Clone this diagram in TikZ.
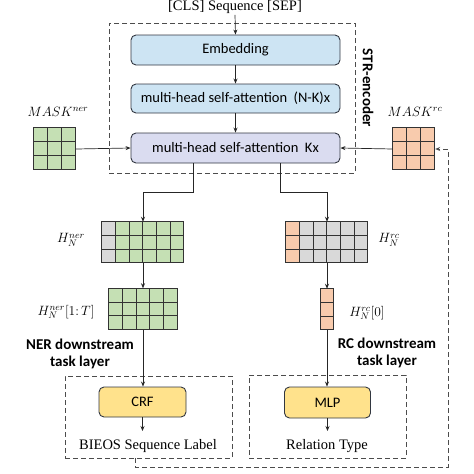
\RequirePackage{fix-cm}
\documentclass[tikz,border=0pt]{standalone}
\usepackage{fontspec}
\setmainfont{Liberation Serif}
\setsansfont{Carlito}
\usetikzlibrary{arrows.meta,calc}
\definecolor{blueC}{RGB}{205,228,243}
\definecolor{lavC}{RGB}{218,220,240}
\definecolor{yellowC}{RGB}{255,226,140}
\definecolor{greenC}{RGB}{197,224,180}
\definecolor{orangeC}{RGB}{248,203,173}
\definecolor{grayC}{RGB}{217,217,217}
\definecolor{edgeC}{RGB}{50,55,65}
\begin{document}
\begin{tikzpicture}[x=1pt,y=-1pt,
  blk/.style={draw=edgeC, rounded corners=5pt, line width=0.9pt, inner sep=0pt,
    font=\sffamily\fontsize{14.5}{16}\selectfont},
  dashbox/.style={draw=black!70, dashed, dash pattern=on 5pt off 3pt, line width=0.8pt, inner sep=0pt},
  arr/.style={-{Stealth[length=5pt,width=4pt]}, line width=0.7pt, draw=black!85},
  feed/.style={-{Stealth[length=5pt,width=4pt]}, line width=0.8pt, draw=black!70, dash pattern=on 5pt off 3pt},
  holder/.style={draw=none, inner sep=0pt},
  cellst/.style={draw=black!80, line width=0.9pt},
  serifl/.style={font=\fontsize{14.5}{16}\selectfont, inner sep=1pt},
  boldl/.style={font=\sffamily\bfseries\fontsize{15}{17}\selectfont, align=center, inner sep=0pt},
  mathl/.style={font=\fontsize{13.5}{15}\selectfont, inner sep=0pt}
]
\useasboundingbox (0,0) rectangle (474,474);

% encoder
\node[serifl] (in) at (235,7) {[CLS] Sequence [SEP]};
\node[dashbox, minimum width=246pt, minimum height=150pt] (enc) at (232,98) {};
\node[blk, fill=blueC, minimum width=209pt, minimum height=30pt] (emb) at (235.5,50) {Embedding};
\node[blk, fill=blueC, minimum width=209pt, minimum height=29pt] (mh1) at (235.5,98.5) {multi-head self-attention\ \ (N-K)x};
\node[blk, fill=lavC, minimum width=209pt, minimum height=30pt] (mh2) at (235.5,148) {multi-head self-attention\ \ Kx};
\node[boldl, rotate=-90] (strl) at (368,88) {STR-encoder};

\draw[arr] (in.south) -- (emb.north);
\draw[arr] (emb) -- (mh1);
\draw[arr] (mh1) -- (mh2);

% masks
\node[holder, minimum width=42pt, minimum height=42pt] (mn) at (55,149) {};
\foreach \i in {0,1,2}\foreach \j in {0,1,2}
  \draw[cellst, fill=greenC] ($(mn.north west)+(\i*14,\j*14)$) rectangle ++(14,14);
\node[mathl] (mnl) at (58,112) {$MASK^{ner}$};

\node[holder, minimum width=42pt, minimum height=42pt] (mr) at (414,149) {};
\foreach \i in {0,1,2}\foreach \j in {0,1,2}
  \draw[cellst, fill=orangeC] ($(mr.north west)+(\i*14,\j*14)$) rectangle ++(14,14);
\node[mathl] (mrl) at (415,112) {$MASK^{rc}$};

\draw[arr] (mn.east) -- (mh2.west);
\draw[arr] (mr.west) -- (mh2.east);

% hidden states
\node[holder, minimum width=82.2pt, minimum height=41.1pt] (hn) at (143,242.5) {};
\foreach \j in {0,1,2}{
  \draw[cellst, fill=grayC] ($(hn.north west)+(0,\j*13.7)$) rectangle ++(13.7,13.7);
  \foreach \i in {1,...,5}
    \draw[cellst, fill=greenC] ($(hn.north west)+(\i*13.7,\j*13.7)$) rectangle ++(13.7,13.7);
}
\node[mathl] (hnl) at (71,240) {$H_N^{ner}$};

\node[holder, minimum width=68.5pt, minimum height=41.1pt] (ht) at (143,309) {};
\foreach \j in {0,1,2}\foreach \i in {0,...,4}
  \draw[cellst, fill=greenC] ($(ht.north west)+(\i*13.7,\j*13.7)$) rectangle ++(13.7,13.7);
\node[mathl] (htl) at (66,312) {$H_N^{ner}[1{:}\,T]$};

\node[holder, minimum width=82.2pt, minimum height=41.1pt] (hr) at (327,242.5) {};
\foreach \j in {0,1,2}{
  \draw[cellst, fill=orangeC] ($(hr.north west)+(0,\j*13.7)$) rectangle ++(13.7,13.7);
  \foreach \i in {1,...,5}
    \draw[cellst, fill=grayC] ($(hr.north west)+(\i*13.7,\j*13.7)$) rectangle ++(13.7,13.7);
}
\node[mathl] (hrl) at (389,240) {$H_N^{rc}$};

\node[holder, minimum width=13.7pt, minimum height=41.1pt] (h0) at (327,309.5) {};
\foreach \j in {0,1,2}
  \draw[cellst, fill=orangeC] ($(h0.north west)+(0,\j*13.7)$) rectangle ++(13.7,13.7);
\node[mathl] (h0l) at (367,313) {$H_N^{rc}[0]$};

\draw[arr] ([xshift=-42.5pt]mh2.south) -- ++(0,29) -| (hn.north);
\draw[arr] ([xshift=44.5pt]mh2.south) -- ++(0,29) -| (hr.north);
\draw[arr] (hn.south) -- (ht.north);
\draw[arr] (hr.south) -- (h0.north);

% downstream
\node[boldl] (nert) at (80,353.5) {NER downstream\\task layer};
\node[boldl] (rct) at (387,352.5) {RC downstream\\task layer};

\node[dashbox, minimum width=167pt, minimum height=82pt] (nerbox) at (148.5,417) {};
\node[dashbox, minimum width=157pt, minimum height=83pt] (rcbox) at (327.5,416.5) {};
\node[blk, fill=yellowC, minimum width=87pt, minimum height=30pt] (crf) at (142.5,402) {CRF};
\node[blk, fill=yellowC, minimum width=86pt, minimum height=31pt] (mlp) at (327.5,402.5) {MLP};
\node[serifl] (bieos) at (148,446) {BIEOS Sequence Label};
\node[serifl] (rtype) at (327,446) {Relation Type};
\coordinate (crfout) at (142.5,431);
\coordinate (mlpout) at (327.5,431);

\draw[arr] (ht.south) -- (crf.north -| ht.south);
\draw[arr] (h0.south) -- (mlp.north -| h0.south);
\draw[arr] (crf.south) -- (crfout);
\draw[arr] (mlp.south) -- (mlpout);

% feedback
\coordinate (fbc) at (448,467);
\draw[feed] ([xshift=-13.5pt]nerbox.south) |- (fbc) |- (mr.east);
\end{tikzpicture}
\end{document}
